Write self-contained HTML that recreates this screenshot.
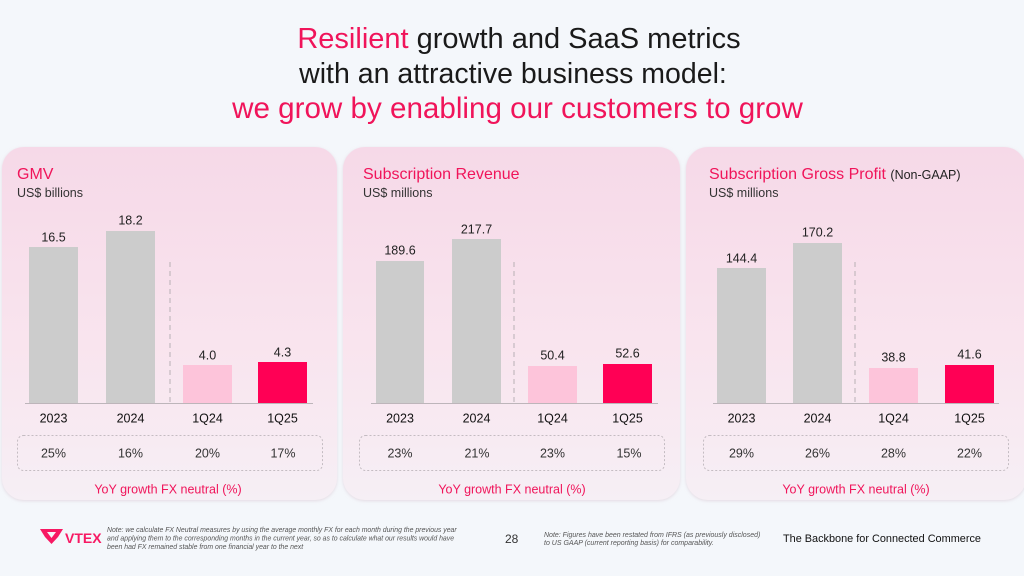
<!DOCTYPE html>
<html><head><meta charset="utf-8"><style>
html,body{margin:0;padding:0;width:1024px;height:576px;overflow:hidden;background:#f4f7fb;}
svg{display:block;}
text{font-family:"Liberation Sans",Arial,sans-serif;}
</style></head><body>
<svg width="1024" height="576" viewBox="0 0 1024 576" xmlns="http://www.w3.org/2000/svg">
<defs>
<linearGradient id="pg" x1="0" y1="0" x2="0" y2="1">
<stop offset="0" stop-color="#f6d9e8"/>
<stop offset="0.55" stop-color="#f9e4ee"/>
<stop offset="1" stop-color="#f6eff5"/>
</linearGradient>
<filter id="sh" x="-5%" y="-5%" width="110%" height="110%"><feDropShadow dx="0" dy="1" stdDeviation="1.5" flood-color="#d8c6d2" flood-opacity="0.6"/></filter>
</defs>
<rect width="1024" height="576" fill="#f4f7fb"/>

<!-- Title -->
<text x="519" y="48" text-anchor="middle" font-size="29" fill="#1a1a1a"><tspan fill="#f0145a">Resilient</tspan> growth and SaaS metrics</text>
<text x="513" y="83" text-anchor="middle" font-size="28.5" fill="#1a1a1a">with an attractive business model:</text>
<text x="517.5" y="118" text-anchor="middle" font-size="29.6" fill="#f0145a">we grow by enabling our customers to grow</text>

<!-- Panels -->
<rect x="2" y="147" width="335" height="353" rx="22" fill="url(#pg)" filter="url(#sh)"/>
<rect x="343" y="147" width="337" height="353" rx="22" fill="url(#pg)" filter="url(#sh)"/>
<rect x="686" y="147" width="340" height="353" rx="22" fill="url(#pg)" filter="url(#sh)"/>

<!-- Panel 1 -->
<text x="17" y="179" font-size="16" fill="#f0145a">GMV</text>
<text x="17" y="197" font-size="12.5" fill="#333">US$ billions</text>
<rect x="29" y="247" width="49" height="156" fill="#cccccc"/>
<rect x="106" y="231" width="49" height="172" fill="#cccccc"/>
<rect x="183" y="365" width="49" height="38" fill="#fdc4da"/>
<rect x="258" y="362" width="49" height="41" fill="#ff0055"/>
<line x1="170" y1="262" x2="170" y2="403" stroke="#b8b0b5" stroke-width="1" stroke-dasharray="5,4"/>
<line x1="25" y1="403.5" x2="313" y2="403.5" stroke="#bdb5ba" stroke-width="1"/>
<g font-size="12.5" fill="#222" text-anchor="middle">
<text x="53.5" y="241.5">16.5</text><text x="130.5" y="224.5">18.2</text><text x="207.5" y="359.5">4.0</text><text x="282.5" y="356.5">4.3</text>
</g>
<g font-size="12.5" fill="#111" text-anchor="middle">
<text x="53.5" y="422.5">2023</text><text x="130.5" y="422.5">2024</text><text x="207.5" y="422.5">1Q24</text><text x="282.5" y="422.5">1Q25</text>
</g>
<rect x="17.5" y="435.5" width="305" height="35" rx="6" fill="none" stroke="#c4bcc2" stroke-width="1" stroke-dasharray="2,2"/>
<g font-size="12.5" fill="#333" text-anchor="middle">
<text x="53.5" y="457.5">25%</text><text x="130.5" y="457.5">16%</text><text x="207.5" y="457.5">20%</text><text x="283" y="457.5">17%</text>
</g>
<text x="168" y="493.5" font-size="12.5" fill="#f0145a" text-anchor="middle">YoY growth FX neutral (%)</text>

<!-- Panel 2 -->
<text x="363" y="179" font-size="16" fill="#f0145a">Subscription Revenue</text>
<text x="363" y="197" font-size="12.5" fill="#333">US$ millions</text>
<rect x="376" y="261" width="48" height="142" fill="#cccccc"/>
<rect x="452" y="239" width="49" height="164" fill="#cccccc"/>
<rect x="528" y="366" width="49" height="37" fill="#fdc4da"/>
<rect x="603" y="364" width="49" height="39" fill="#ff0055"/>
<line x1="514" y1="262" x2="514" y2="403" stroke="#b8b0b5" stroke-width="1" stroke-dasharray="5,4"/>
<line x1="371" y1="403.5" x2="658" y2="403.5" stroke="#bdb5ba" stroke-width="1"/>
<g font-size="12.5" fill="#222" text-anchor="middle">
<text x="400" y="254.5">189.6</text><text x="476.5" y="233.5">217.7</text><text x="552.5" y="359.5">50.4</text><text x="627.5" y="357.5">52.6</text>
</g>
<g font-size="12.5" fill="#111" text-anchor="middle">
<text x="400" y="422.5">2023</text><text x="476.5" y="422.5">2024</text><text x="552.5" y="422.5">1Q24</text><text x="627.5" y="422.5">1Q25</text>
</g>
<rect x="359.5" y="435.5" width="305" height="35" rx="6" fill="none" stroke="#c4bcc2" stroke-width="1" stroke-dasharray="2,2"/>
<g font-size="12.5" fill="#333" text-anchor="middle">
<text x="400" y="457.5">23%</text><text x="477" y="457.5">21%</text><text x="552.5" y="457.5">23%</text><text x="629" y="457.5">15%</text>
</g>
<text x="512" y="493.5" font-size="12.5" fill="#f0145a" text-anchor="middle">YoY growth FX neutral (%)</text>

<!-- Panel 3 -->
<text x="709" y="179" font-size="16" fill="#f0145a">Subscription Gross Profit <tspan font-size="12.5" fill="#222">(Non-GAAP)</tspan></text>
<text x="709" y="197" font-size="12.5" fill="#333">US$ millions</text>
<rect x="717" y="268" width="49" height="135" fill="#cccccc"/>
<rect x="793" y="243" width="49" height="160" fill="#cccccc"/>
<rect x="869" y="368" width="49" height="35" fill="#fdc4da"/>
<rect x="945" y="365" width="49" height="38" fill="#ff0055"/>
<line x1="855" y1="262" x2="855" y2="403" stroke="#b8b0b5" stroke-width="1" stroke-dasharray="5,4"/>
<line x1="713" y1="403.5" x2="999" y2="403.5" stroke="#bdb5ba" stroke-width="1"/>
<g font-size="12.5" fill="#222" text-anchor="middle">
<text x="741.5" y="262.5">144.4</text><text x="817.5" y="236.5">170.2</text><text x="893.5" y="361.5">38.8</text><text x="969.5" y="358.5">41.6</text>
</g>
<g font-size="12.5" fill="#111" text-anchor="middle">
<text x="741.5" y="422.5">2023</text><text x="817.5" y="422.5">2024</text><text x="893.5" y="422.5">1Q24</text><text x="969.5" y="422.5">1Q25</text>
</g>
<rect x="703.5" y="435.5" width="305" height="35" rx="6" fill="none" stroke="#c4bcc2" stroke-width="1" stroke-dasharray="2,2"/>
<g font-size="12.5" fill="#333" text-anchor="middle">
<text x="741.5" y="457.5">29%</text><text x="817.5" y="457.5">26%</text><text x="893.5" y="457.5">28%</text><text x="969.5" y="457.5">22%</text>
</g>
<text x="856" y="493.5" font-size="12.5" fill="#f0145a" text-anchor="middle">YoY growth FX neutral (%)</text>

<!-- Footer -->
<polygon points="40,529 63,529 58,537 51.5,544 45,537" fill="#f71963"/>
<polygon points="47,532 56,532 51.5,538" fill="#f4f7fb"/>
<text x="65" y="543" font-size="14" font-weight="bold" fill="#f71963">VTEX</text>
<g font-size="6.9" font-style="italic" fill="#555">
<text x="107" y="532">Note: we calculate FX Neutral measures by using the average monthly FX for each month during the previous year</text>
<text x="107" y="540.5">and applying them to the corresponding months in the current year, so as to calculate what our results would have</text>
<text x="107" y="549">been had FX remained stable from one financial year to the next</text>
</g>
<text x="505" y="543" font-size="12" fill="#333">28</text>
<g font-size="7" font-style="italic" fill="#555">
<text x="544" y="537">Note: Figures have been restated from IFRS (as previously disclosed)</text>
<text x="544" y="545">to US GAAP (current reporting basis) for comparability.</text>
</g>
<text x="783" y="542" font-size="10.9" fill="#111">The Backbone for Connected Commerce</text>
</svg>
</body></html>
